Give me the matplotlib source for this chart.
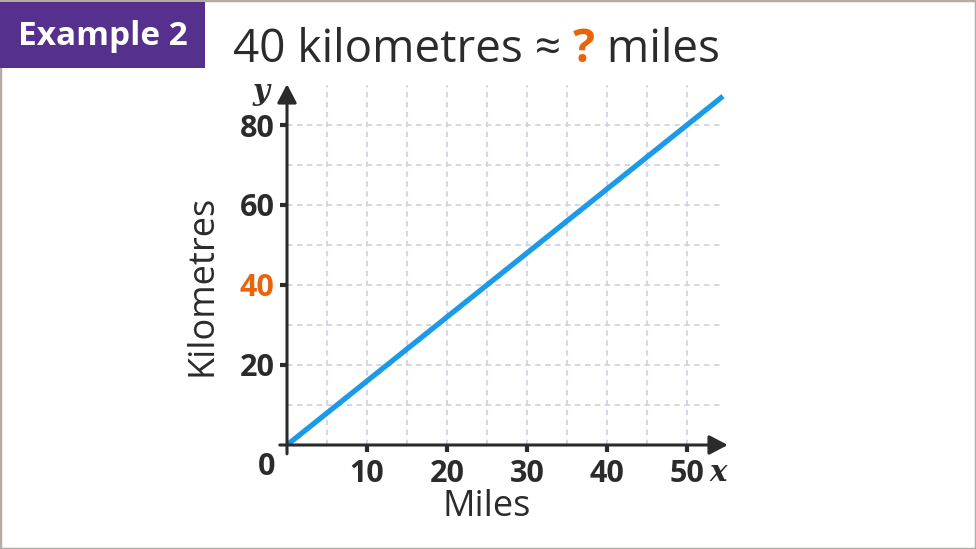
import matplotlib
matplotlib.use('Agg')
import matplotlib.pyplot as plt
from matplotlib.patches import Rectangle

# data: kilometres vs miles conversion line
miles = [0, 54.5]
km = [0, 87.2]
x_ticks = [10, 20, 30, 40, 50]
y_ticks = [20, 40, 60, 80]
x_grid = [5, 10, 15, 20, 25, 30, 35, 40, 45, 50]
y_grid = [10, 20, 30, 40, 50, 60, 70, 80]
highlight_y = 40

BLUE = '#1b9ae8'
DARK = '#2b2b2b'
ORANGE = '#e8630a'
PURPLE = '#55308d'
GRID = '#d2d2e2'

plt.rcParams['font.family'] = ['Open Sans', 'DejaVu Sans']

fig = plt.figure(figsize=(9.76, 5.49), dpi=100)
fig.patch.set_facecolor('white')

# frame round the slide and the "Example 2" box
fig.add_artist(Rectangle((0, 0), 1, 1, transform=fig.transFigure,
                         fill=False, edgecolor='#b5aca3', lw=2.5))
fig.add_artist(Rectangle((0, 1 - 68 / 549), 205 / 976, 66 / 549,
                         transform=fig.transFigure, color=PURPLE, lw=0))
fig.text(18 / 976, 1 - 45 / 549, 'Example 2', color='white', fontsize=24,
         fontweight='bold', va='baseline', ha='left')

ax = fig.add_axes([287 / 976, 104 / 549, 440 / 976, 360 / 549])
ax.set_xlim(0, 55)
ax.set_ylim(0, 90)
for s in ax.spines.values():
    s.set_visible(False)
ax.set_facecolor('none')

# title with orange question mark
t1 = fig.text(233 / 976, 1 - 62 / 549, '40 kilometres \u2248 ', color=DARK,
              fontsize=33, va='baseline', ha='left')
q = ax.annotate('?', xy=(1, 0), xycoords=t1, color=ORANGE, fontsize=33,
                fontweight='bold', va='bottom', ha='left', annotation_clip=False)
ax.annotate(' miles', xy=(1, 0), xycoords=q, color=DARK, fontsize=33,
            va='bottom', ha='left', annotation_clip=False)

# dashed grid
ax.hlines(y_grid, 0, 54.5, colors=GRID, linestyles=(0, (3, 2.5)), lw=1.3, zorder=1)
ax.vlines(x_grid, 0, 90, colors=GRID, linestyles=(0, (3, 2.5)), lw=1.3, zorder=1)

# conversion line
ax.plot(miles, km, color=BLUE, lw=3.8, solid_capstyle='butt', zorder=3)

# axes with arrows
arrow = dict(arrowstyle='-|>,head_length=0.8,head_width=0.42', color=DARK,
             lw=2.2, shrinkA=0, shrinkB=0, mutation_scale=14)
ax.annotate('', xy=(55.1, 0), xytext=(-0.9, 0), arrowprops=arrow,
            annotation_clip=False, zorder=4)
ax.annotate('', xy=(0, 90.2), xytext=(0, -2.2), arrowprops=arrow,
            annotation_clip=False, zorder=4)

ax.set_xticks(x_ticks)
ax.set_yticks(y_ticks)
ax.tick_params(axis='both', length=5, width=3, color=DARK, labelcolor=DARK,
               labelsize=22)
ax.tick_params(axis='x', pad=5)
ax.tick_params(axis='y', pad=4)
for lab in ax.get_xticklabels() + ax.get_yticklabels():
    lab.set_fontweight('bold')
i = y_ticks.index(highlight_y)
ax.get_yticklabels()[i].set_color(ORANGE)
ax.yaxis.get_major_ticks()[i].tick1line.set_color(ORANGE)

ax.text(-2.5, -5.5, '0', fontsize=22, fontweight='bold', color=DARK,
        ha='center', va='center')
ax.text(53.9, -6.8, 'x', fontsize=21, fontweight='bold', fontstyle='italic',
        family='DejaVu Serif', color=DARK, ha='center', va='center')
ax.text(-3.3, 88.3, 'y', fontsize=21, fontweight='bold', fontstyle='italic',
        family='DejaVu Serif', color=DARK, ha='center', va='center')

ax.text(25, -15.5, 'Miles', fontsize=26, color=DARK, ha='center', va='center')
ax.text(-10.6, 40, 'Kilometres', fontsize=26, color=DARK, rotation=90,
        ha='center', va='center')

fig.savefig('out.png', dpi=100)
